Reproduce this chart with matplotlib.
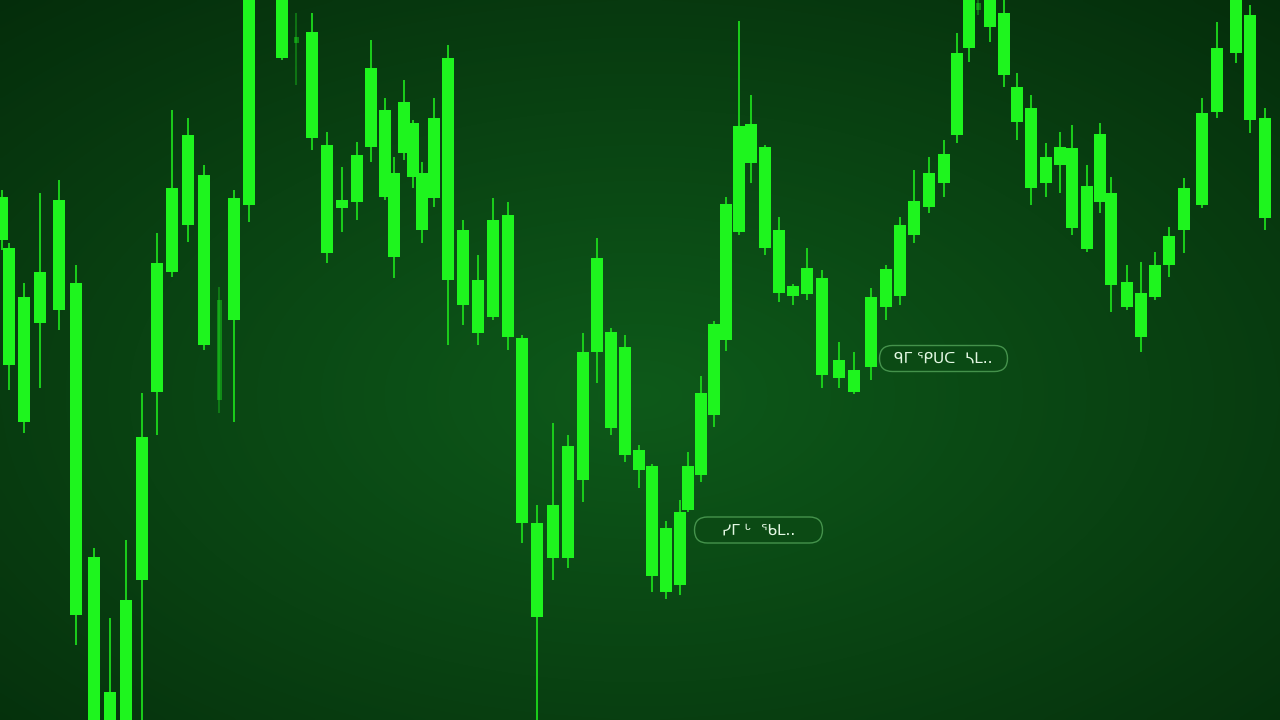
import numpy as np
import matplotlib.pyplot as plt
from matplotlib.patches import FancyBboxPatch

# время свечи (условные минуты) и цены
t = [0.2, 0.9, 2.4, 4.0, 5.9, 7.6, 9.4, 11.0, 12.6, 14.2,
     15.7, 17.2, 18.8, 20.4, 21.9, 23.4, 24.9, 28.2, 29.6, 31.2,
     32.7, 34.2, 35.7, 37.1, 38.5, 39.4, 40.4, 41.3, 42.2, 43.4,
     44.8, 46.3, 47.8, 49.3, 50.8, 52.2, 53.7, 55.3, 56.8, 58.3,
     59.7, 61.1, 62.5, 63.9, 65.2, 66.6, 68.0, 68.8, 70.1, 71.4,
     72.6, 73.9, 75.1, 76.5, 77.9, 79.3, 80.7, 82.2, 83.9, 85.4,
     87.1, 88.6, 90.0, 91.4, 92.9, 94.4, 95.7, 96.9, 97.8, 99.0,
     100.4, 101.7, 103.1, 104.6, 106.0, 107.2, 108.7, 110.0, 111.1, 112.7,
     114.1, 115.5, 116.9, 118.4, 120.2, 121.7, 123.6, 125.0, 126.5]

open_ = [148.0, 135.5, 129.8, 139.7, 141.0, 110.5, 96.0, 96.0, 96.0, 114.0,
         132.8, 144.8, 149.5, 137.5, 132.0, 140.0, 151.5, 166.2, 167.7, 158.2,
         146.7, 151.2, 151.8, 157.3, 152.3, 146.3, 156.7, 154.3, 149.0, 152.2,
         144.0, 141.5, 138.7, 140.3, 138.3, 119.7, 110.3, 116.2, 116.2, 124.0,
         136.8, 129.2, 126.5, 125.0, 114.4, 112.8, 113.5, 121.0, 124.5, 130.5,
         138.0, 148.8, 155.7, 147.2, 142.7, 142.4, 142.6, 134.5, 134.2, 132.8,
         135.3, 141.3, 142.4, 148.5, 151.3, 153.7, 158.5, 167.2, 171.0, 169.3,
         164.5, 159.8, 153.2, 153.7, 155.5, 149.2, 147.1, 151.8, 143.5, 141.3,
         138.3, 142.3, 145.5, 149.0, 151.5, 160.8, 166.7, 160.0, 150.2]

close = [152.3, 147.2, 142.3, 144.8, 152.0, 143.7, 116.3, 102.8, 112.0, 128.3,
         145.7, 153.2, 158.5, 154.5, 142.0, 152.2, 175.0, 174.0, 168.3, 168.8,
         157.5, 152.0, 156.5, 165.2, 161.0, 154.7, 161.8, 159.7, 154.7, 160.2,
         166.2, 149.0, 144.0, 150.0, 150.5, 138.2, 119.7, 121.5, 127.4, 136.8,
         146.2, 138.8, 137.3, 127.0, 125.4, 119.2, 120.8, 125.4, 132.7, 139.6,
         151.6, 159.4, 159.6, 157.3, 149.0, 143.4, 145.2, 144.2, 136.0, 135.0,
         142.3, 145.1, 149.5, 151.9, 154.7, 156.6, 166.7, 174.0, 171.7, 174.0,
         170.7, 163.3, 161.2, 156.3, 157.3, 157.2, 153.4, 158.6, 152.7, 143.8,
         142.7, 145.5, 148.4, 153.2, 160.7, 167.2, 174.0, 170.5, 160.2]

high = [153.0, 147.7, 143.7, 152.7, 154.0, 145.5, 117.2, 110.2, 118.0, 132.7,
        148.7, 161.0, 160.2, 155.5, 143.3, 153.0, 176.0, 175.0, 170.7, 170.7,
        158.8, 155.3, 157.8, 168.0, 162.2, 156.3, 164.0, 160.0, 155.8, 162.2,
        167.5, 150.0, 146.5, 152.2, 151.8, 138.5, 121.5, 129.7, 128.5, 138.7,
        148.2, 139.2, 138.5, 127.5, 125.6, 119.9, 122.0, 126.8, 134.4, 139.9,
        152.3, 169.9, 162.5, 157.5, 150.3, 143.6, 147.2, 145.0, 137.8, 136.8,
        143.2, 145.5, 150.3, 155.0, 156.3, 158.0, 168.7, 175.0, 172.0, 175.0,
        172.0, 164.7, 162.5, 157.7, 158.8, 159.5, 155.5, 159.7, 154.3, 145.5,
        145.8, 146.8, 149.3, 154.2, 162.2, 169.8, 175.0, 171.5, 161.2]

low = [147.0, 133.0, 128.7, 133.2, 139.0, 107.5, 95.0, 95.0, 95.0, 95.0,
       128.5, 144.3, 147.8, 137.0, 130.7, 129.8, 149.8, 166.0, 163.5, 157.0,
       145.7, 148.8, 150.0, 155.8, 152.0, 144.2, 156.0, 153.2, 147.7, 151.3,
       137.5, 139.5, 137.5, 140.0, 137.0, 117.7, 95.0, 114.0, 115.2, 121.8,
       133.7, 128.5, 125.8, 123.2, 112.8, 112.1, 112.5, 120.8, 123.8, 129.3,
       136.9, 148.5, 153.7, 146.5, 141.8, 141.5, 142.0, 133.2, 133.2, 132.6,
       134.0, 140.0, 141.5, 147.7, 150.7, 152.3, 157.7, 165.8, 170.5, 167.8,
       163.3, 158.0, 151.5, 152.3, 152.7, 148.5, 146.8, 150.7, 140.8, 141.0,
       136.8, 142.0, 144.3, 146.7, 151.2, 160.2, 165.7, 158.7, 149.0]

# полупрозрачные "призрачные" свечи
faint = [21.9, 29.6, 97.8]

labels = ["ᑫᒥ ᕿᑌᑕ  ᓴᒪ..", "ᓯᒥ ᒡ  ᖃᒪ.."]
label_pos = [(94.35, 136.15), (75.85, 119.0)]


def main():
    fig = plt.figure(figsize=(12.8, 7.2), dpi=100)
    ax = fig.add_axes([0, 0, 1, 1])
    x0, x1, y0, y1 = 0, 128, 100, 172
    ax.set_xlim(x0, x1)
    ax.set_ylim(y0, y1)
    ax.axis("off")

    # фон: радиальный градиент
    gx, gy = np.meshgrid(np.linspace(0, 1, 320), np.linspace(0, 1, 180))
    r = np.sqrt(((gx - 0.5) / 0.8) ** 2 + ((gy - 0.45) / 0.8) ** 2)
    r = np.clip(r, 0, 1)
    inner = np.array([14, 90, 26]) / 255
    outer = np.array([4, 42, 10]) / 255
    img = inner[None, None, :] * (1 - r[..., None]) + outer[None, None, :] * r[..., None]
    ax.imshow(img, extent=[x0, x1, y1, y0], aspect="auto", zorder=0,
              interpolation="bicubic")
    ax.set_ylim(y0, y1)

    body_col = "#1ef51e"
    wick_col = "#1bcf1b"
    for ti, o, c, h, l in zip(t, open_, close, high, low):
        is_faint = ti in faint
        a = 0.4 if is_faint else 1.0
        ax.vlines(ti, l, h, color=wick_col, lw=1.4, alpha=a, zorder=2)
        lo, hi = min(o, c), max(o, c)
        ax.bar(ti, hi - lo, bottom=lo, width=0.5 if is_faint else 1.15,
               color=body_col, alpha=a, zorder=3, linewidth=0)

    for txt, (lx, ly) in zip(labels, label_pos):
        ax.text(lx, ly, txt, ha="center", va="center", fontsize=11,
                color="#e2f7e2", zorder=5, family=["DejaVu Sans"])
        w, hgt = 12.8, 2.6
        box = FancyBboxPatch((lx - w / 2, ly - hgt / 2), w, hgt,
                             boxstyle="round,pad=0,rounding_size=1.3",
                             facecolor="#0b4a14", edgecolor="#4f9f56",
                             linewidth=1.0, alpha=0.85, zorder=4)
        ax.add_patch(box)

    fig.savefig("out.png", dpi=100)
    plt.close(fig)


if __name__ == "__main__":
    main()
